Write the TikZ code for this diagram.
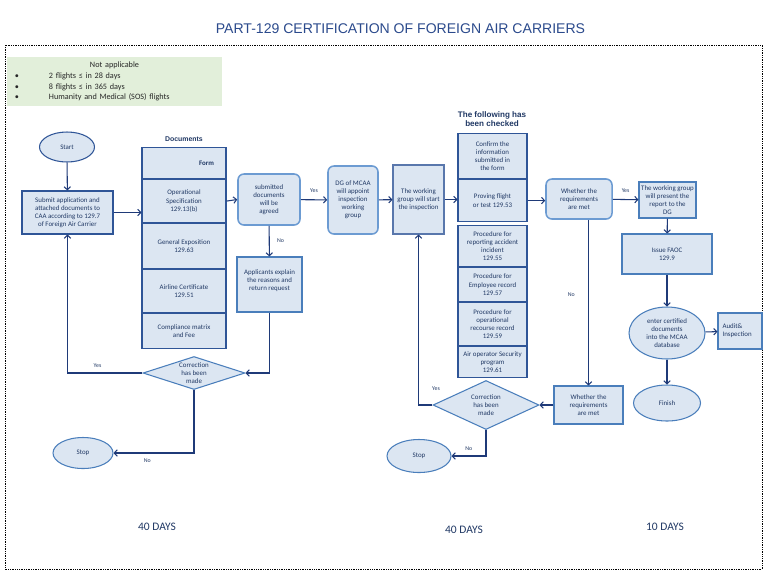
\documentclass[tikz,border=0pt]{standalone}
\usepackage{fontspec}
\setmainfont{Carlito}
\newfontfamily\headfont{Liberation Sans}
\usetikzlibrary{positioning,shapes.geometric,arrows.meta}
\definecolor{boxfill}{HTML}{DCE6F2}
\definecolor{edgedark}{HTML}{2F5597}
\definecolor{edgemid}{HTML}{4A7EBB}
\definecolor{edgesoft}{HTML}{6C9BD2}
\definecolor{linknavy}{HTML}{1F3A78}
\definecolor{inknavy}{HTML}{203864}
\definecolor{notegreen}{HTML}{E2EFDA}
\definecolor{titleblue}{HTML}{2B4A8C}
\begin{document}
\begin{tikzpicture}[x=0.03cm, y=-0.03cm, >={Straight Barb[length=2.6pt,width=5.5pt]},
  txt/.style={font=\fontsize{5.9}{6.9}\selectfont, text=inknavy, align=center, inner sep=1pt},
  plainbox/.style={txt, draw=edgemid, fill=boxfill, line width=0.9pt},
  darkbox/.style={plainbox, draw=edgedark},
  softbox/.style={txt, draw=edgesoft, fill=boxfill, line width=1.3pt, rounded corners=5pt},
  oval/.style={txt, ellipse, draw=edgemid, fill=boxfill, line width=0.9pt, inner sep=0pt},
  decision/.style={txt, diamond, draw=edgemid, fill=boxfill, line width=0.9pt, inner sep=0pt},
  link/.style={->, draw=linknavy, line width=0.9pt},
  lbl/.style={font=\fontsize{5}{6}\selectfont, text=inknavy},
  head/.style={font=\headfont\bfseries\fontsize{6.9}{7.6}\selectfont, text=inknavy, align=center},
  days/.style={font=\fontsize{9.8}{11}\selectfont, text=inknavy}]
\useasboundingbox (0,0) rectangle (768,582);
\draw[densely dotted, line width=0.5pt] (5,45) rectangle (762,569);
\node[font=\headfont\fontsize{12}{14}\selectfont, text=titleblue] (title) at (400.5,28.7) {PART-129 CERTIFICATION OF FOREIGN AIR CARRIERS};

% not applicable note
\node[fill=notegreen, text width=5.97cm, inner xsep=0.24cm, minimum height=1.47cm, align=left,
  font=\fontsize{7}{9.3}\selectfont, text=black!85] (exempt) at (114.5,81.5)
  {\makebox[5.97cm]{Not applicable}\\
   \makebox[1.02cm][l]{\textbullet}2 flights ≤ in 28 days\\
   \makebox[1.02cm][l]{\textbullet}8 flights ≤ in 365 days\\
   \makebox[1.02cm][l]{\textbullet}Humanity and Medical (SOS) flights};

% left part
\node[oval, draw=edgedark, minimum width=1.65cm, minimum height=0.9cm] (start) at (67,147) {Start};
\node[darkbox, minimum width=2.73cm, minimum height=1.29cm] (submit) at (67.5,212.5) {Submit application and\\attached documents to\\CAA according to 129.7\\of Foreign Air Carrier};

\node[head, font=\headfont\bfseries\fontsize{5.9}{7}\selectfont] (doctitle) at (184,139) {Documents};
\node[darkbox, minimum width=2.52cm, minimum height=0.93cm, text width=1.8cm, align=right, anchor=north] (form) at (184,147) {\textbf{Form}};
\node[darkbox, minimum width=2.52cm, minimum height=1.29cm, below=0pt of form] (opspec) {Operational\\Specification\\129.13(b)};
\node[darkbox, minimum width=2.52cm, minimum height=1.35cm, below=0pt of opspec] (genexp) {General Exposition\\129.63};
\node[darkbox, minimum width=2.52cm, minimum height=1.29cm, below=0pt of genexp] (airline) {Airline Certificate\\129.51};
\node[darkbox, minimum width=2.52cm, minimum height=1.05cm, below=0pt of airline] (matrix) {Compliance matrix\\and Fee};

\node[softbox, minimum width=1.86cm, minimum height=1.53cm] (agreed) at (269,199.5) {submitted\\documents\\will be\\agreed};
\node[plainbox, minimum width=1.95cm, minimum height=1.65cm] (explain) at (269.5,284.5) {Applicants explain\\the reasons and\\return request\\\mbox{}};
\node[decision, shape aspect=3, minimum width=3.06cm, minimum height=0.99cm] (fix1) at (194,373) {Correction\\has been\\made};
\node[oval, minimum width=1.8cm, minimum height=0.93cm] (stop1) at (83,453) {Stop};

% middle part
\node[softbox, minimum width=1.5cm, minimum height=2.04cm] (appoint) at (353,200) {DG of MCAA\\will appoint\\inspection\\working\\group};
\node[plainbox, draw=edgedark!80, minimum width=1.53cm, minimum height=2.07cm] (inspect) at (418.5,199.5) {The working\\group will start\\the inspection};

\node[head] (chktitle) at (492,119.5) {The following has\\been checked};
\node[darkbox, minimum width=2.07cm, minimum height=1.35cm, anchor=north] (chk1) at (492.5,133) {Confirm the\\information\\submitted in\\the form};
\node[darkbox, minimum width=2.07cm, minimum height=1.26cm, below=0pt of chk1] (chk2) {Proving flight\\or test 129.53};
\node[darkbox, minimum width=2.07cm, minimum height=1.23cm, below=0.09cm of chk2] (chk3) {Procedure for\\reporting accident\\incident\\129.55};
\node[darkbox, minimum width=2.07cm, minimum height=1.02cm, below=0pt of chk3] (chk4) {Procedure for\\Employee record\\129.57};
\node[darkbox, minimum width=2.07cm, minimum height=1.29cm, below=0pt of chk4] (chk5) {Procedure for\\operational\\recourse record\\129.59};
\node[darkbox, minimum width=2.07cm, minimum height=0.93cm, below=0pt of chk5] (chk6) {Air operator Security\\program\\129.61};

\node[plainbox, minimum width=2.07cm, minimum height=1.14cm] (met2) at (588.5,405) {Whether the\\requirements\\are met};
\node[decision, shape aspect=2.16, minimum width=3.18cm, minimum height=1.47cm] (fix2) at (486,405) {Correction\\has been\\made};
\node[oval, minimum width=1.92cm, minimum height=0.99cm] (stop2) at (419,456) {Stop};

% right part
\node[softbox, minimum width=1.98cm, minimum height=1.2cm] (met1) at (579,199) {Whether the\\requirements\\are met};
\node[plainbox, minimum width=1.71cm, minimum height=1.08cm] (report) at (667.5,200) {The working group\\will present the\\report to the\\DG};
\node[plainbox, minimum width=2.7cm, minimum height=1.2cm] (faoc) at (667,254) {Issue FAOC\\129.9};
\node[oval, minimum width=2.28cm, minimum height=1.56cm] (database) at (667,333) {enter certified\\documents\\into the MCAA\\database};
\node[plainbox, minimum width=1.32cm, minimum height=1.08cm, text width=1.05cm, align=left] (audit) at (740,331) {Audit\&\\Inspection};
\node[oval, minimum width=2.01cm, minimum height=1.08cm] (finish) at (667,403) {Finish};

% connectors
\draw[link] (start) -- (submit);
\draw[link] (submit) -- (submit -| opspec.west);
\draw[link] (opspec.east) -- (agreed.west);
\draw[link] (agreed) -- node[lbl, above=2pt]{Yes} (appoint);
\draw[link] (agreed) -- node[lbl, right=3pt]{No} (explain);
\draw[link] (explain.south) |- (fix1.east);
\draw[link] (fix1.west) -| node[lbl, pos=0.3, above=1pt]{Yes} (submit.south);
\draw[link] (fix1.south) |- node[lbl, pos=0.79, below=1pt]{No} (stop1.east);
\draw[link] (appoint) -- (inspect);
\draw[link] (inspect.east) -- (inspect.east -| chk2.west);
\draw[link] (chk2.east) -- (chk2.east -| met1.west);
\draw[link] (met1) -- node[lbl, above=2pt]{Yes} (report);
\draw[link] (met2.north |- met1.south) -- node[lbl, pos=0.45, left=8pt]{No} (met2.north);
\draw[link] (met2) -- (fix2);
\draw[link] (fix2.west) node[lbl, xshift=3pt, yshift=14pt]{Yes} -| (inspect.south);
\draw[link] (fix2.south) |- node[lbl, pos=0.75, above=1pt]{No} (stop2.east);
\draw[link] (report) -- (faoc);
\draw[link] (faoc) -- (database);
\draw[link] (database) -- (audit);
\draw[link] (database) -- (finish);

% durations
\node[days] (days1) at (157,526.5) {40 DAYS};
\node[days] (days2) at (464,530) {40 DAYS};
\node[days] (days3) at (665,527) {10 DAYS};
\end{tikzpicture}
\end{document}
